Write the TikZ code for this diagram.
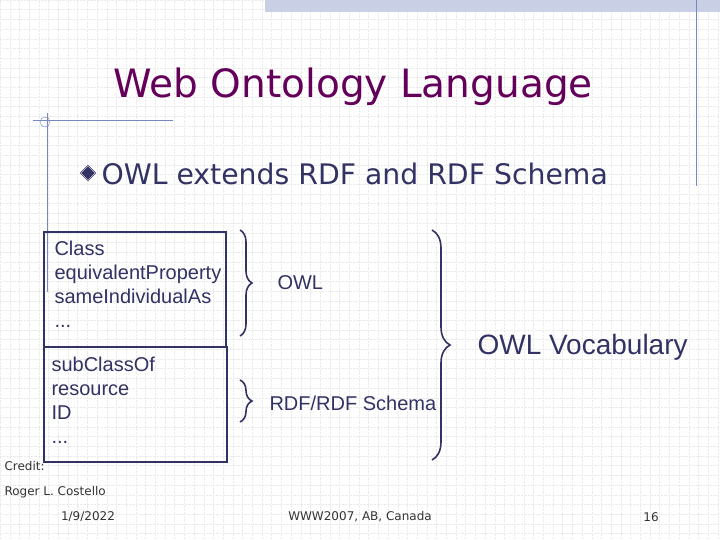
\documentclass[tikz,border=0pt]{standalone}
\usepackage{fontspec}
\setmainfont{DejaVu Sans}
\newfontfamily\arialf{Liberation Sans}
\usetikzlibrary{patterns,decorations.pathreplacing}
\definecolor{navy}{RGB}{50,50,100}
\definecolor{ttl}{RGB}{100,0,90}
\definecolor{deco}{RGB}{120,135,190}
\begin{document}
\begin{tikzpicture}[x=1pt,y=-1pt,
  box/.style={draw=navy,line width=2pt},
  brace/.style={draw=navy,line width=1.6pt,decorate,decoration={brace,amplitude=12pt}},
  lbl/.style={font=\arialf\fontsize{20}{24}\selectfont,text=navy,anchor=west,align=left},
  foot/.style={font=\fontsize{12}{14}\selectfont,text=black!80}]
\useasboundingbox (0,0) rectangle (720,540);
\fill[white] (0,0) rectangle (720,540);
\draw[black!8,densely dotted] (0,0) grid[step=9.7pt] (720,540);
\fill[deco!40] (265,0) rectangle (720,12);
\draw[deco] (696,0) -- (696,186);
\draw[deco] (33,120) -- (173,120);
\draw[deco] (47,113) -- (47,292);
\draw[deco] (45,122) circle (5);
\node[text=ttl,font=\fontsize{39}{44}\selectfont] (title) at (353,87) {Web Ontology Language};
\node[text=navy,font=\fontsize{28.3}{32}\selectfont,anchor=west] (bul) at (98,174) {OWL extends RDF and RDF Schema};
\node[fill=navy,draw=white,double=navy,rotate=45,minimum size=11pt,inner sep=0pt] (dia) at (88,173) {};
\node[box,minimum width=182pt,minimum height=115pt,anchor=north west,inner sep=0pt] (b1) at (43,231) {};
\node[box,minimum width=183pt,minimum height=115pt,anchor=north west,inner sep=0pt] (b2) at (43,346) {};
\node[lbl,anchor=north west] (t1) at (51,237) {Class\\equivalentProperty\\sameIndividualAs\\...};
\node[lbl,anchor=north west] (t2) at (48,353) {subClassOf\\resource\\ID\\...};
\draw[brace] (240,230) -- (240,336);
\draw[brace] (240,380) -- (240,422);
\draw[brace,decoration={amplitude=18pt}] (432,230) -- (432,460);
\node[lbl] (owl) at (274,283) {OWL};
\node[lbl] (rdf) at (266,403) {RDF/RDF Schema};
\node[lbl,font=\arialf\fontsize{28}{32}\selectfont] (voc) at (474,347) {OWL Vocabulary};
\node[anchor=west,foot] (cr) at (1,466) {Credit:};
\node[anchor=west,foot] (rc) at (1,492) {Roger L. Costello};
\node[foot] (d) at (88,517) {1/9/2022};
\node[foot] (w) at (360,517) {WWW2007, AB, Canada};
\node[foot] (n) at (651,517) {16};
\end{tikzpicture}
\end{document}
